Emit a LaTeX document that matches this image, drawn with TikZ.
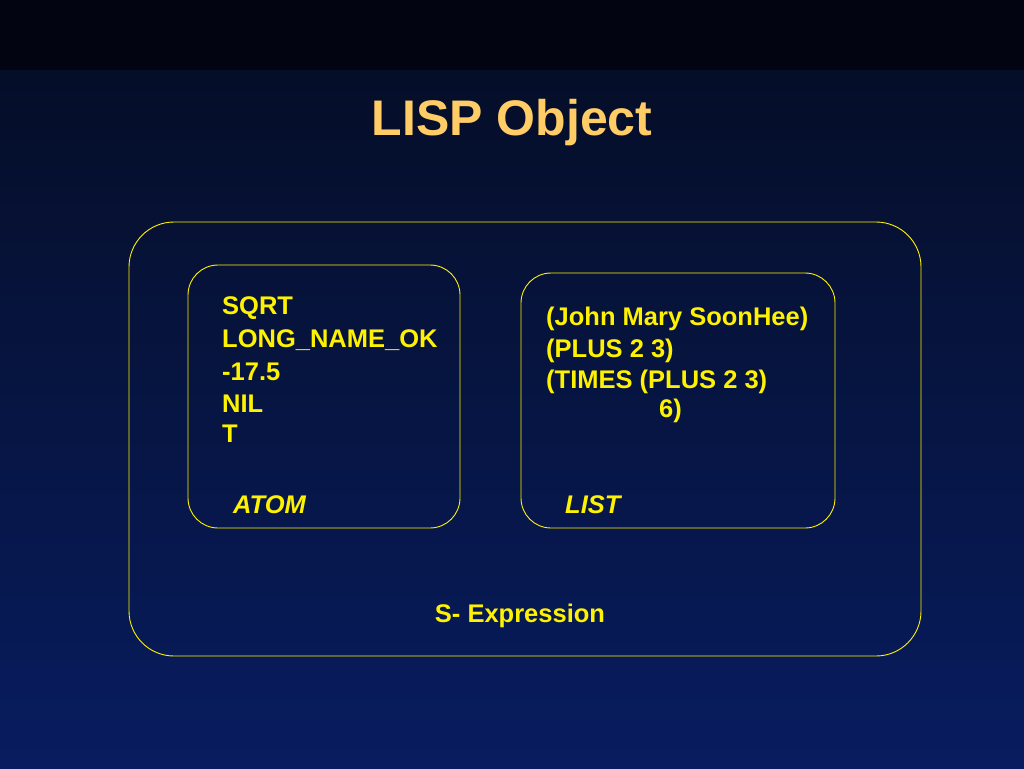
\documentclass[tikz,border=0pt]{standalone}
\usepackage{fontspec}
\setmainfont{Liberation Sans}
\definecolor{topband}{RGB}{2,4,18}
\definecolor{bgtop}{RGB}{5,14,40}
\definecolor{bgbot}{RGB}{8,28,95}
\definecolor{titlecol}{RGB}{255,204,102}
\begin{document}
\begin{tikzpicture}[x=1pt,y=-1pt,
  box/.style={draw=yellow,line width=0.9pt},
  txt/.style={text=yellow,font=\bfseries\fontsize{25.5}{30}\selectfont,inner sep=0pt,anchor=west}]
\useasboundingbox (0,0) rectangle (1024,768);
\fill[topband] (0,0) rectangle (1024,70);
\fill[top color=bgtop, bottom color=bgbot] (0,70) rectangle (1024,768);
\node[text=titlecol,font=\bfseries\fontsize{50}{58}\selectfont] (title) at (512,123) {LISP Object};
\draw[box,rounded corners=45pt] (129,222) rectangle (921,656);
\draw[box,rounded corners=30pt] (188,265) rectangle (460,528);
\draw[box,rounded corners=30pt] (521,273) rectangle (835,528);
\node[txt] (a1) at (222,308) {SQRT};
\node[txt] (a2) at (222,340) {LONG\_NAME\_OK};
\node[txt] (a3) at (222,372) {-17.5};
\node[txt] (a4) at (222,404) {NIL};
\node[txt] (a5) at (222,434) {T};
\node[txt] (b1) at (546,319) {(John Mary SoonHee)};
\node[txt] (b2) at (546,351) {(PLUS 2 3)};
\node[txt] (b3) at (546,382) {(TIMES (PLUS 2 3)};
\node[txt] (b4) at (659,411) {6)};
\node[txt,font=\bfseries\itshape\fontsize{25.5}{30}\selectfont] (atom) at (233,505) {ATOM};
\node[txt,font=\bfseries\itshape\fontsize{25.5}{30}\selectfont] (list) at (565,505) {LIST};
\node[txt,anchor=center] (se) at (520,616) {S- Expression};
\end{tikzpicture}
\end{document}
